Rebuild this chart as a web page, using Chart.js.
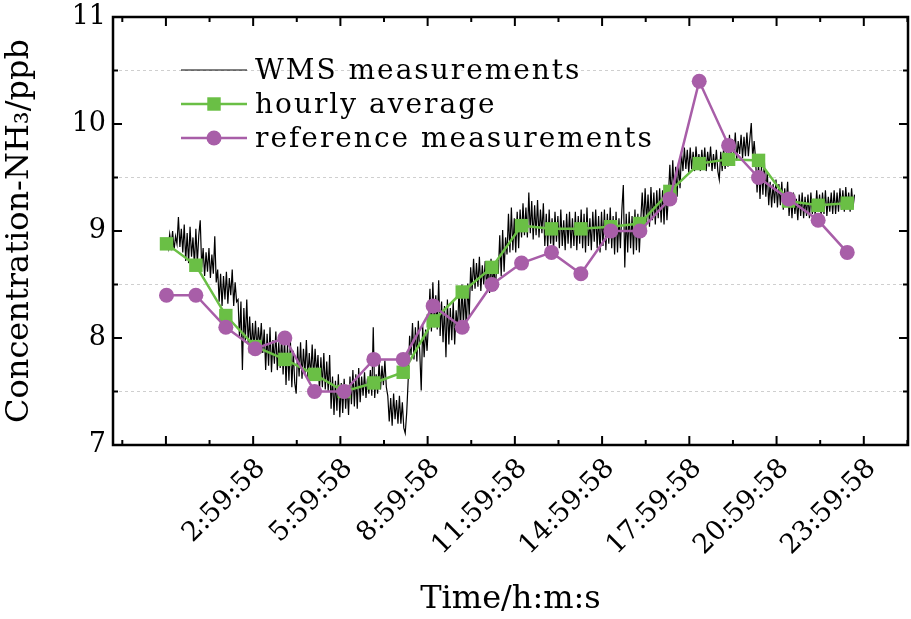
<!DOCTYPE html>
<html>
<head>
<meta charset="utf-8">
<script src="https://cdn.jsdelivr.net/npm/chart.js@4.4.1/dist/chart.umd.min.js"></script>
<style>
  html, body { margin: 0; padding: 0; background: #fff; }
  canvas { display: block; }
</style>
</head>
<body>
<canvas id="chart" width="911" height="619"></canvas>
<script>
// Hourly markers (hours since start)
const markerHours = [0.02, 1.03, 2.06, 3.07, 4.09, 5.11, 6.13, 7.15, 8.16, 9.19, 10.19, 11.21,
                     12.23, 13.26, 14.27, 15.30, 16.30, 17.33, 18.34, 19.35, 20.38, 21.41, 22.43, 23.43];
const hourlyAverage = [8.88, 8.68, 8.21, 7.92, 7.80, 7.66, 7.50, 7.58, 7.68, 8.16, 8.43, 8.66,
                       9.05, 9.02, 9.02, 9.04, 9.07, 9.37, 9.63, 9.67, 9.66, 9.28, 9.24, 9.26];
const referenceValues = [8.40, 8.40, 8.10, 7.90, 8.00, 7.50, 7.50, 7.80, 7.80, 8.30, 8.10, 8.50,
                         8.70, 8.80, 8.60, 9.00, 9.00, 9.30, 10.40, 9.80, 9.50, 9.30, 9.10, 8.80];

// WMS trace, one reading every 0.05 h, one row per hour
const wmsStartHour = 0.03;
const wmsStepHour = 0.05;
const wmsValues = [
  8.92, 8.84, 8.97, 8.86, 9.00, 8.82, 8.95, 8.88, 9.13, 8.85, 9.02, 8.80, 9.06, 8.72, 8.98, 8.70, 9.04, 8.76, 8.94, 8.68,
  9.02, 8.70, 8.96, 9.10, 8.66, 8.84, 8.58, 8.80, 8.62, 8.84, 8.56, 8.78, 8.60, 8.95, 8.52, 8.64, 8.34, 8.60, 8.30, 8.58,
  8.36, 8.62, 8.32, 8.56, 8.40, 8.64, 8.30, 8.52, 8.34, 8.36, 8.00, 8.34, 7.70, 8.28, 7.96, 8.36, 7.94, 8.20, 7.88, 8.14,
  7.90, 8.16, 7.88, 8.10, 7.92, 8.14, 7.86, 8.08, 7.70, 8.04, 7.74, 8.10, 7.68, 7.98, 7.76, 8.06, 7.70, 7.96, 7.72, 8.02,
  7.66, 8.00, 7.56, 7.94, 7.60, 7.98, 7.54, 7.88, 7.58, 7.48, 7.92, 7.64, 7.96, 7.62, 7.90, 7.66, 7.98, 7.62, 7.86, 7.64,
  7.94, 7.62, 7.90, 7.66, 7.84, 7.50, 7.82, 7.54, 7.86, 7.52, 7.78, 7.50, 7.84, 7.34, 7.64, 7.28, 7.60, 7.32, 7.66, 7.26,
  7.58, 7.30, 7.62, 7.34, 7.56, 7.28, 7.64, 7.38, 7.70, 7.36, 7.66, 7.34, 7.72, 7.40, 7.64, 7.46, 7.68, 7.44, 7.62, 7.48,
  7.70, 7.46, 8.10, 7.44, 7.66, 7.48, 7.78, 7.52, 7.74, 7.56, 7.79, 7.54, 7.46, 7.22, 7.44, 7.18, 7.48, 7.24, 7.42, 7.20,
  7.46, 7.20, 7.40, 7.16, 7.11, 7.30, 7.60, 8.02, 7.84, 8.14, 7.80, 8.10, 7.78, 8.16, 7.86, 7.51, 8.12, 7.82, 8.08, 7.88,
  8.14, 8.46, 8.06, 8.52, 8.10, 8.40, 8.08, 8.54, 8.02, 8.34, 7.96, 8.30, 7.82, 8.36, 7.94, 8.28, 7.98, 8.34, 7.94, 8.26,
  8.08, 8.46, 8.06, 8.50, 8.12, 8.44, 8.08, 8.51, 8.20, 8.66, 8.44, 8.74, 8.46, 8.70, 8.48, 8.76, 8.44, 8.68, 8.50, 8.72,
  8.46, 8.70, 8.42, 8.74, 8.48, 8.68, 8.44, 8.72, 8.60, 8.96, 8.58, 9.01, 8.62, 8.94, 8.78, 9.16, 8.80, 9.22, 8.82, 9.12,
  8.80, 9.18, 8.84, 9.20, 8.94, 9.26, 8.96, 9.22, 8.94, 9.36, 8.98, 9.28, 8.92, 9.24, 8.96, 9.29, 8.94, 9.20, 8.98, 9.26,
  8.86, 9.16, 8.84, 9.20, 8.88, 9.12, 8.82, 9.18, 8.90, 9.14, 8.84, 9.20, 8.86, 9.10, 8.82, 9.16, 8.88, 9.18, 8.84, 9.12,
  8.86, 9.18, 8.82, 9.14, 8.88, 9.20, 8.84, 9.16, 8.80, 9.22, 8.86, 9.12, 8.82, 9.18, 8.90, 9.20, 8.84, 9.14, 8.80, 9.18,
  8.86, 9.20, 8.82, 9.16, 8.88, 9.22, 8.84, 9.14, 8.78, 9.18, 8.80, 9.12, 8.84, 9.20, 9.43, 8.66, 9.16, 8.80, 9.18, 8.84,
  9.14, 8.78, 9.20, 8.82, 9.16, 8.80, 9.10, 9.36, 9.06, 9.40, 9.08, 9.34, 9.04, 9.41, 9.10, 9.36, 9.06, 9.38, 9.12, 9.40,
  9.08, 9.38, 9.06, 9.40, 9.10, 9.32, 9.62, 9.30, 9.66, 9.34, 9.60, 9.32, 9.64, 9.40, 9.74, 9.56, 9.78, 9.58, 9.76, 9.54,
  9.78, 9.58, 9.74, 9.56, 9.79, 9.60, 9.72, 9.56, 9.76, 9.58, 9.78, 9.56, 9.74, 9.60, 9.79, 9.56, 9.72, 9.58, 9.76, 9.56,
  9.48, 9.74, 9.56, 9.78, 9.58, 9.72, 9.60, 9.90, 9.68, 9.86, 9.70, 9.92, 9.66, 9.84, 9.72, 9.90, 9.68, 9.88, 9.70, 9.92,
  9.70, 9.86, 10.01, 9.68, 9.84, 9.66, 9.36, 9.64, 9.30, 9.60, 9.34, 9.66, 9.32, 9.56, 9.24, 9.46, 9.22, 9.44, 9.26, 9.48,
  9.22, 9.44, 9.24, 9.46, 9.20, 9.40, 9.24, 9.46, 9.14, 9.34, 9.12, 9.36, 9.16, 9.30, 9.10, 9.34, 9.14, 9.36, 9.12, 9.32,
  9.14, 9.34, 9.12, 9.36, 9.16, 9.30, 9.14, 9.38, 9.18, 9.34, 9.14, 9.36, 9.16, 9.38, 9.14, 9.32, 9.18, 9.36, 9.16, 9.38,
  9.16, 9.36, 9.18, 9.40, 9.20, 9.38, 9.18, 9.41, 9.22, 9.36, 9.18, 9.40, 9.22, 9.34
];

// Axis ticks
const xTickHours = [3, 6, 9, 12, 15, 18, 21, 24];
const xTickLabels = ['2:59:58', '5:59:58', '8:59:58', '11:59:58', '14:59:58', '17:59:58', '20:59:58', '23:59:58'];
const yTickValues = [7, 8, 9, 10, 11];
const yTickLabels = ['7', '8', '9', '10', '11'];

const FONT = 'DejaVu Serif';
const GREEN = '#6abf45';
const PURPLE = '#a85ea8';

// Legend inside the plot, drawn with each dataset's style
const insideLegend = {
    id: 'insideLegend',
    afterDraw(chart) {
        const ctx = chart.ctx;
        const a = chart.chartArea;
        const x0 = a.left + 68, x1 = a.left + 134, tx = a.left + 142;
        let rowY = a.top + 53;
        ctx.save();
        chart.data.datasets.forEach(ds => {
            ctx.strokeStyle = ds.borderColor;
            ctx.lineWidth = ds.pointRadius > 0 ? ds.borderWidth : 1;
            ctx.beginPath();
            ctx.moveTo(x0, rowY);
            ctx.lineTo(x1, rowY);
            ctx.stroke();
            if (ds.pointRadius > 0) {
                ctx.fillStyle = ds.pointBackgroundColor;
                const mx = (x0 + x1) / 2;
                if (ds.pointStyle === 'rect') {
                    const s = ds.pointRadius * Math.SQRT1_2;
                    ctx.fillRect(mx - s, rowY - s, 2 * s, 2 * s);
                } else {
                    ctx.beginPath();
                    ctx.arc(mx, rowY, ds.pointRadius, 0, Math.PI * 2);
                    ctx.fill();
                }
            }
            ctx.fillStyle = '#000';
            ctx.font = `28px "${FONT}"`;
            ctx.letterSpacing = '2px';
            ctx.textBaseline = 'alphabetic';
            ctx.textAlign = 'left';
            ctx.fillText(ds.label, tx, rowY + 9);
            rowY += 34;
        });
        ctx.restore();
    }
};

// Frame with inward ticks on all four sides
const frameTicks = {
    id: 'frameTicks',
    afterDatasetsDraw(chart) {
        const {ctx, chartArea: a, scales: {x, y}} = chart;
        ctx.save();
        ctx.strokeStyle = '#000';
        ctx.lineWidth = 2;
        ctx.beginPath();
        x.ticks.forEach(t => {
            const px = x.getPixelForValue(t.value);
            const len = Math.abs(t.value % 3) < 1e-6 ? 9 : 5;
            ctx.moveTo(px, a.bottom); ctx.lineTo(px, a.bottom - len);
            ctx.moveTo(px, a.top); ctx.lineTo(px, a.top + len);
        });
        y.ticks.forEach(t => {
            const py = y.getPixelForValue(t.value);
            const len = Number.isInteger(t.value) ? 9 : 5;
            ctx.moveTo(a.left, py); ctx.lineTo(a.left + len, py);
            ctx.moveTo(a.right, py); ctx.lineTo(a.right - len, py);
        });
        ctx.stroke();
        ctx.lineWidth = 2.5;
        ctx.strokeRect(a.left, a.top, a.right - a.left, a.bottom - a.top);
        ctx.restore();
    }
};

const ctx = document.getElementById('chart').getContext('2d');
new Chart(ctx, {
    type: 'line',
    data: {
        datasets: [{
            label: 'WMS measurements',
            data: wmsValues.map((v, i) => ({x: wmsStartHour + i * wmsStepHour, y: v})),
            borderColor: '#000',
            borderWidth: 1.2,
            pointRadius: 0,
            tension: 0,
            order: 3
        }, {
            label: 'hourly average',
            data: markerHours.map((h, i) => ({x: h, y: hourlyAverage[i]})),
            borderColor: GREEN,
            borderWidth: 2.5,
            pointStyle: 'rect',
            pointRadius: 9.5,
            pointBackgroundColor: GREEN,
            pointBorderColor: GREEN,
            pointBorderWidth: 0,
            tension: 0,
            order: 2
        }, {
            label: 'reference measurements',
            data: markerHours.map((h, i) => ({x: h, y: referenceValues[i]})),
            borderColor: PURPLE,
            borderWidth: 2.5,
            pointStyle: 'circle',
            pointRadius: 7.5,
            pointBackgroundColor: PURPLE,
            pointBorderColor: PURPLE,
            pointBorderWidth: 0,
            tension: 0,
            order: 1
        }]
    },
    options: {
        responsive: false,
        animation: false,
        devicePixelRatio: 1,
        layout: { autoPadding: false, padding: { top: 17, right: 3, left: 0, bottom: 0 } },
        plugins: {
            legend: { display: false },
            tooltip: { enabled: false }
        },
        scales: {
            x: {
                type: 'linear',
                min: -1.82,
                max: 25.52,
                afterFit: s => {
                    s.height = 174;
                    s.paddingLeft = 0;
                    s.paddingRight = 0;
                },
                grid: { display: false, drawTicks: false },
                border: { display: false },
                ticks: {
                    stepSize: 1.5,
                    includeBounds: false,
                    autoSkip: false,
                    minRotation: 45,
                    maxRotation: 45,
                    padding: 8,
                    labelOffset: 8,
                    color: '#000',
                    font: { family: FONT, size: 27 },
                    callback: v => {
                        const i = xTickHours.indexOf(v);
                        return i >= 0 ? xTickLabels[i] : '';
                    }
                },
                title: {
                    display: true,
                    text: 'Time/h:m:s',
                    color: '#000',
                    font: { family: FONT, size: 32 },
                    padding: { top: 0, bottom: 0 }
                }
            },
            y: {
                min: 7,
                max: 11,
                afterFit: s => {
                    s.width = 113;
                    s.paddingTop = 0;
                    s.paddingBottom = 0;
                },
                grid: {
                    drawTicks: false,
                    lineWidth: 1,
                    color: c => Number.isInteger(c.tick.value) ? 'rgba(0,0,0,0)' : '#cfcfcf'
                },
                border: { display: false, dash: [3, 3] },
                ticks: {
                    stepSize: 0.5,
                    padding: 7,
                    color: '#000',
                    font: { family: FONT, size: 27 },
                    callback: v => {
                        const i = yTickValues.indexOf(v);
                        return i >= 0 ? yTickLabels[i] : '';
                    }
                },
                title: {
                    display: true,
                    text: 'Concentration-NH\u2083/ppb',
                    color: '#000',
                    font: { family: FONT, size: 32 },
                    padding: { top: 0, bottom: 4 }
                }
            }
        }
    },
    plugins: [frameTicks, insideLegend]
});
</script>
</body>
</html>
